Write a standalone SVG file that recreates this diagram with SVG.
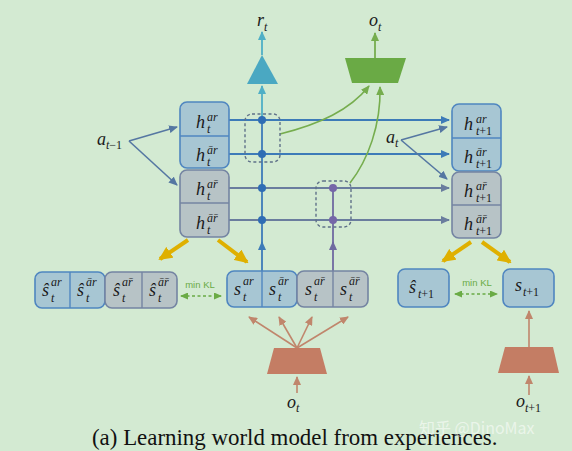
<svg xmlns="http://www.w3.org/2000/svg" width="572" height="451" viewBox="0 0 572 451">
<defs>
<style>
.m{font-family:"Liberation Serif",serif;font-style:italic;font-size:18px;fill:#1a1a1a}
.sm{font-family:"Liberation Serif",serif;font-style:italic;font-size:12px;fill:#1a1a1a}
.up{font-style:normal}
.bb{fill:#a7c6d3;stroke:#4f86c0;stroke-width:1.6}
.gb{fill:#b7c3c6;stroke:#7484a2;stroke-width:1.6}
.bd{stroke:#4f86c0;stroke-width:1.4}
.gd{stroke:#7484a2;stroke-width:1.4}
.kl{font-family:"Liberation Sans",sans-serif;font-size:9.5px;fill:#6aab45}
.dash{fill:none;stroke:#5f7189;stroke-width:1.4;stroke-dasharray:3,2.5}
</style>
<marker id="aB" markerUnits="userSpaceOnUse" markerWidth="9" markerHeight="8" refX="8" refY="4" orient="auto"><path d="M0,0L9,4L0,8z" fill="#3d7bb8"/></marker>
<marker id="aS" markerUnits="userSpaceOnUse" markerWidth="9" markerHeight="8" refX="8" refY="4" orient="auto"><path d="M0,0L9,4L0,8z" fill="#6a7d9e"/></marker>
<marker id="aT" markerUnits="userSpaceOnUse" markerWidth="9" markerHeight="8" refX="8" refY="4" orient="auto"><path d="M0,0L9,4L0,8z" fill="#4fafc6"/></marker>
<marker id="aG" markerUnits="userSpaceOnUse" markerWidth="9" markerHeight="8" refX="8" refY="4" orient="auto"><path d="M0,0L9,4L0,8z" fill="#76ad4e"/></marker>
<marker id="aK" markerUnits="userSpaceOnUse" markerWidth="8" markerHeight="7" refX="7" refY="3.5" orient="auto-start-reverse"><path d="M0,0L8,3.5L0,7z" fill="#6aab45"/></marker>
<marker id="aR" markerUnits="userSpaceOnUse" markerWidth="9" markerHeight="8" refX="8" refY="4" orient="auto"><path d="M0,0L9,4L0,8z" fill="#c0866c"/></marker>
<marker id="aY" markerUnits="userSpaceOnUse" markerWidth="14" markerHeight="13" refX="12" refY="6.5" orient="auto"><path d="M0,0L14,6.5L0,13z" fill="#dfb000"/></marker>
<marker id="aP" markerUnits="userSpaceOnUse" markerWidth="9" markerHeight="8" refX="8" refY="4" orient="auto"><path d="M0,0L9,4L0,8z" fill="#6f6aa0"/></marker>
<marker id="aA" markerUnits="userSpaceOnUse" markerWidth="9" markerHeight="8" refX="8" refY="4" orient="auto"><path d="M0,0L9,4L0,8z" fill="#5577a2"/></marker>
</defs>
<rect width="572" height="451" fill="#d3ead2"/>

<g id="connectors" fill="none">
<line x1="229" y1="120" x2="449" y2="120" stroke="#3d7bb8" stroke-width="1.8" marker-end="url(#aB)"/>
<line x1="229" y1="154" x2="449" y2="154" stroke="#3d7bb8" stroke-width="1.8" marker-end="url(#aB)"/>
<line x1="229" y1="188" x2="449" y2="188" stroke="#6a7d9e" stroke-width="1.8" marker-end="url(#aS)"/>
<line x1="229" y1="220" x2="449" y2="220" stroke="#6a7d9e" stroke-width="1.8" marker-end="url(#aS)"/>
<line x1="262" y1="307" x2="262" y2="242" stroke="#3d7bb8" stroke-width="1.8" marker-end="url(#aB)"/>
<line x1="262" y1="243" x2="262" y2="120" stroke="#3d7bb8" stroke-width="1.8"/>
<line x1="262" y1="120" x2="262" y2="86" stroke="#4fafc6" stroke-width="1.8" marker-end="url(#aT)"/>
<line x1="333" y1="307" x2="333" y2="242" stroke="#6f6aa0" stroke-width="1.8" marker-end="url(#aP)"/>
<line x1="333" y1="243" x2="333" y2="188" stroke="#6f6aa0" stroke-width="1.8"/>
<line x1="262" y1="55" x2="262" y2="32" stroke="#4fafc6" stroke-width="1.8" marker-end="url(#aT)"/>
<line x1="375" y1="58" x2="375" y2="33" stroke="#76ad4e" stroke-width="1.8" marker-end="url(#aG)"/>
<path d="M280,134 C320,124 350,110 369,86" stroke="#76ad4e" stroke-width="1.6" marker-end="url(#aG)"/>
<path d="M350,183 C368,160 381,125 380,87" stroke="#76ad4e" stroke-width="1.6" marker-end="url(#aG)"/>
<line x1="129" y1="141" x2="177" y2="127" stroke="#5577a2" stroke-width="1.6" marker-end="url(#aA)"/>
<line x1="129" y1="141" x2="177" y2="185" stroke="#5577a2" stroke-width="1.6" marker-end="url(#aA)"/>
<line x1="401" y1="140" x2="447" y2="127" stroke="#5577a2" stroke-width="1.6" marker-end="url(#aA)"/>
<line x1="401" y1="140" x2="447" y2="179" stroke="#5577a2" stroke-width="1.6" marker-end="url(#aA)"/>
<line x1="188" y1="240" x2="160" y2="259" stroke="#dfb000" stroke-width="4" marker-end="url(#aY)"/>
<line x1="218" y1="240" x2="247" y2="262" stroke="#dfb000" stroke-width="4" marker-end="url(#aY)"/>
<line x1="471" y1="242" x2="443" y2="261" stroke="#dfb000" stroke-width="4" marker-end="url(#aY)"/>
<line x1="482" y1="242" x2="510" y2="262" stroke="#dfb000" stroke-width="4" marker-end="url(#aY)"/>
<line x1="181" y1="296" x2="221" y2="296" stroke="#6aab45" stroke-width="1.6" stroke-dasharray="3,2.5" marker-start="url(#aK)" marker-end="url(#aK)"/>
<line x1="455" y1="294" x2="497" y2="294" stroke="#6aab45" stroke-width="1.6" stroke-dasharray="3,2.5" marker-start="url(#aK)" marker-end="url(#aK)"/>
<line x1="297" y1="348" x2="249" y2="317" stroke="#c0866c" stroke-width="1.6" marker-end="url(#aR)"/>
<line x1="297" y1="348" x2="279" y2="317" stroke="#c0866c" stroke-width="1.6" marker-end="url(#aR)"/>
<line x1="297" y1="348" x2="312" y2="317" stroke="#c0866c" stroke-width="1.6" marker-end="url(#aR)"/>
<line x1="297" y1="348" x2="348" y2="317" stroke="#c0866c" stroke-width="1.6" marker-end="url(#aR)"/>
<line x1="297" y1="393" x2="297" y2="377" stroke="#c0866c" stroke-width="1.6" marker-end="url(#aR)"/>
<line x1="529" y1="347" x2="529" y2="311" stroke="#c0866c" stroke-width="1.6" marker-end="url(#aR)"/>
<line x1="529" y1="395" x2="529" y2="376" stroke="#c0866c" stroke-width="1.6" marker-end="url(#aR)"/>
<rect class="dash" x="245" y="114" width="35" height="48" rx="7"/>
<rect class="dash" x="316" y="181" width="35" height="46" rx="7"/>
<circle cx="262" cy="120" r="4" fill="#2f6db4"/>
<circle cx="262" cy="154" r="4" fill="#2f6db4"/>
<circle cx="262" cy="188" r="4" fill="#2f6db4"/>
<circle cx="262" cy="220" r="4" fill="#2f6db4"/>
<circle cx="333" cy="188" r="4" fill="#7566a8"/>
<circle cx="333" cy="220" r="4" fill="#7566a8"/>
</g>

<g id="reward-head">
<polygon points="262,55 247,84 278,84" fill="#4aa8c2"/>
<text class="m" x="257" y="26">r</text><text class="sm" x="264" y="31">t</text>
</g>
<g id="obs-decoder">
<polygon points="345,58 406,58 398,83 352,83" fill="#6aaa45"/>
<text class="m" x="369" y="26">o</text><text class="sm" x="378" y="31">t</text>
</g>

<g id="h-t">
<rect class="bb" x="180" y="102" width="49" height="66" rx="7"/>
<line class="bd" x1="180" y1="136" x2="229" y2="136"/>
<rect class="gb" x="180" y="170" width="49" height="67" rx="7"/>
<line class="gd" x1="180" y1="203" x2="229" y2="203"/>
<text class="m" x="196" y="128">h</text><text class="sm" x="207" y="121">ar</text><text class="sm" x="207" y="133">t</text>
<text class="m" x="196" y="161">h</text><text class="sm" x="207" y="154">ār</text><text class="sm" x="207" y="166">t</text>
<text class="m" x="196" y="195">h</text><text class="sm" x="207" y="188">ar̄</text><text class="sm" x="207" y="200">t</text>
<text class="m" x="196" y="229">h</text><text class="sm" x="207" y="222">ār̄</text><text class="sm" x="207" y="234">t</text>
</g>

<g id="h-t1">
<rect class="bb" x="452" y="104" width="49" height="67" rx="7"/>
<line class="bd" x1="452" y1="138" x2="501" y2="138"/>
<rect class="gb" x="452" y="172" width="49" height="66" rx="7"/>
<line class="gd" x1="452" y1="205" x2="501" y2="205"/>
<text class="m" x="464" y="130">h</text><text class="sm" x="476" y="123">ar</text><text class="sm" x="476" y="135">t<tspan class="up">+1</tspan></text>
<text class="m" x="464" y="163">h</text><text class="sm" x="476" y="156">ār</text><text class="sm" x="476" y="168">t<tspan class="up">+1</tspan></text>
<text class="m" x="464" y="197">h</text><text class="sm" x="476" y="190">ar̄</text><text class="sm" x="476" y="202">t<tspan class="up">+1</tspan></text>
<text class="m" x="464" y="230">h</text><text class="sm" x="476" y="223">ār̄</text><text class="sm" x="476" y="235">t<tspan class="up">+1</tspan></text>
</g>

<g id="a-t-1"><text class="m" x="97" y="145">a</text><text class="sm" x="106" y="149">t<tspan class="up">−1</tspan></text></g>
<g id="a-t"><text class="m" x="386" y="143">a</text><text class="sm" x="395" y="147">t</text></g>

<g id="s-hat-t">
<rect class="bb" x="35" y="272" width="70" height="36" rx="7"/>
<line class="bd" x1="70" y1="272" x2="70" y2="308"/>
<rect class="gb" x="105" y="272" width="72" height="36" rx="7"/>
<line class="gd" x1="142" y1="272" x2="142" y2="308"/>
<text class="m" x="42" y="296">ŝ</text><text class="sm" x="51" y="286">ar</text><text class="sm" x="51" y="302">t</text>
<text class="m" x="77" y="296">ŝ</text><text class="sm" x="86" y="286">ār</text><text class="sm" x="86" y="302">t</text>
<text class="m" x="113" y="296">ŝ</text><text class="sm" x="122" y="286">ar̄</text><text class="sm" x="122" y="302">t</text>
<text class="m" x="149" y="296">ŝ</text><text class="sm" x="158" y="286">ār̄</text><text class="sm" x="158" y="302">t</text>
</g>
<text class="kl" x="200" y="288" text-anchor="middle">min KL</text>

<g id="s-t">
<rect class="bb" x="227" y="271" width="70" height="36" rx="7"/>
<rect class="gb" x="297" y="271" width="71" height="36" rx="7"/>
<text class="m" x="234" y="295">s</text><text class="sm" x="243" y="285">ar</text><text class="sm" x="243" y="301">t</text>
<text class="m" x="269" y="295">s</text><text class="sm" x="278" y="285">ār</text><text class="sm" x="278" y="301">t</text>
<text class="m" x="305" y="295">s</text><text class="sm" x="314" y="285">ar̄</text><text class="sm" x="314" y="301">t</text>
<text class="m" x="340" y="295">s</text><text class="sm" x="349" y="285">ār̄</text><text class="sm" x="349" y="301">t</text>
<line class="bd" x1="262" y1="271" x2="262" y2="307" stroke="#3d7bb8"/>
<line class="gd" x1="333" y1="271" x2="333" y2="307" stroke="#6f6aa0"/>
</g>

<g id="s-hat-t1">
<rect class="bb" x="398" y="269" width="51" height="38" rx="7"/>
<text class="m" x="409" y="293">ŝ</text><text class="sm" x="418" y="298">t<tspan class="up">+1</tspan></text>
</g>
<text class="kl" x="477" y="286" text-anchor="middle">min KL</text>
<g id="s-t1">
<rect class="bb" x="503" y="269" width="51" height="38" rx="7"/>
<text class="m" x="515" y="291">s</text><text class="sm" x="523" y="296">t<tspan class="up">+1</tspan></text>
</g>

<g id="encoder-t">
<polygon points="274,348 320,348 327,374 267,374" fill="#c47d64"/>
<text class="m" x="287" y="408">o</text><text class="sm" x="296" y="412">t</text>
</g>
<g id="encoder-t1">
<polygon points="505,347 553,347 559,373 498,373" fill="#c47d64"/>
<text class="m" x="516" y="407">o</text><text class="sm" x="525" y="412">t<tspan class="up">+1</tspan></text>
</g>

<text x="92" y="445" font-family="Liberation Serif,serif" font-size="22.9" fill="#111">(a) Learning world model from experiences.</text>
<text x="419" y="434" font-family="Noto Sans CJK SC,sans-serif" font-size="16" fill="#ffffff" fill-opacity="0.55">知乎 @DinoMax</text>
</svg>
